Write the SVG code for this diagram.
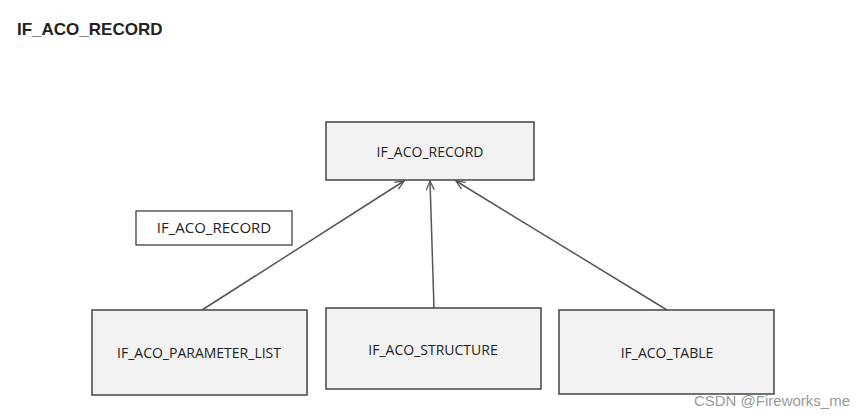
<svg xmlns="http://www.w3.org/2000/svg" width="864" height="418" viewBox="0 0 864 418">
<style>
.box{fill:#f2f2f2;stroke:#444;stroke-width:1.5}
.t{font-family:"Open Sans","Liberation Sans",sans-serif;font-size:14px;fill:#222;text-anchor:middle}
.c{stroke:#555;stroke-width:1.5;fill:none;marker-end:url(#a)}
</style>
<defs><marker id="a" markerWidth="12" markerHeight="12" refX="10" refY="5" orient="auto" markerUnits="userSpaceOnUse"><path d="M1,1 L10,5 L1,9" fill="none" stroke="#555" stroke-width="1.3"/></marker></defs>
<rect width="864" height="418" fill="#fff"/>
<text x="17" y="35" style="font-family:'Liberation Sans',sans-serif;font-size:17px;font-weight:bold;fill:#222">IF_ACO_RECORD</text>
<g id="connectors">
<line class="c" x1="202" y1="310" x2="404" y2="181"/>
<line class="c" x1="434" y1="308" x2="430" y2="181"/>
<line class="c" x1="667" y1="310" x2="456" y2="181"/>
</g>
<g id="top"><rect class="box" x="326" y="122" width="208" height="58"/><text class="t" x="430" y="157">IF_ACO_RECORD</text></g>
<g id="label"><rect x="136" y="211" width="156" height="34" fill="#fff" stroke="#333" stroke-width="1.2"/><text class="t" x="214" y="233" style="font-size:15px">IF_ACO_RECORD</text></g>
<g id="param"><rect class="box" x="92" y="310" width="215" height="85"/><text class="t" x="199" y="358">IF_ACO_PARAMETER_LIST</text></g>
<g id="struct"><rect class="box" x="326" y="308" width="215" height="81"/><text class="t" x="433" y="355">IF_ACO_STRUCTURE</text></g>
<g id="table"><rect class="box" x="559" y="310" width="215" height="84"/><text class="t" x="667" y="358">IF_ACO_TABLE</text></g>
<text x="850" y="406" style="font-family:'Liberation Sans',sans-serif;font-size:15px;fill:#999;text-anchor:end">CSDN @Fireworks_me</text>
</svg>
